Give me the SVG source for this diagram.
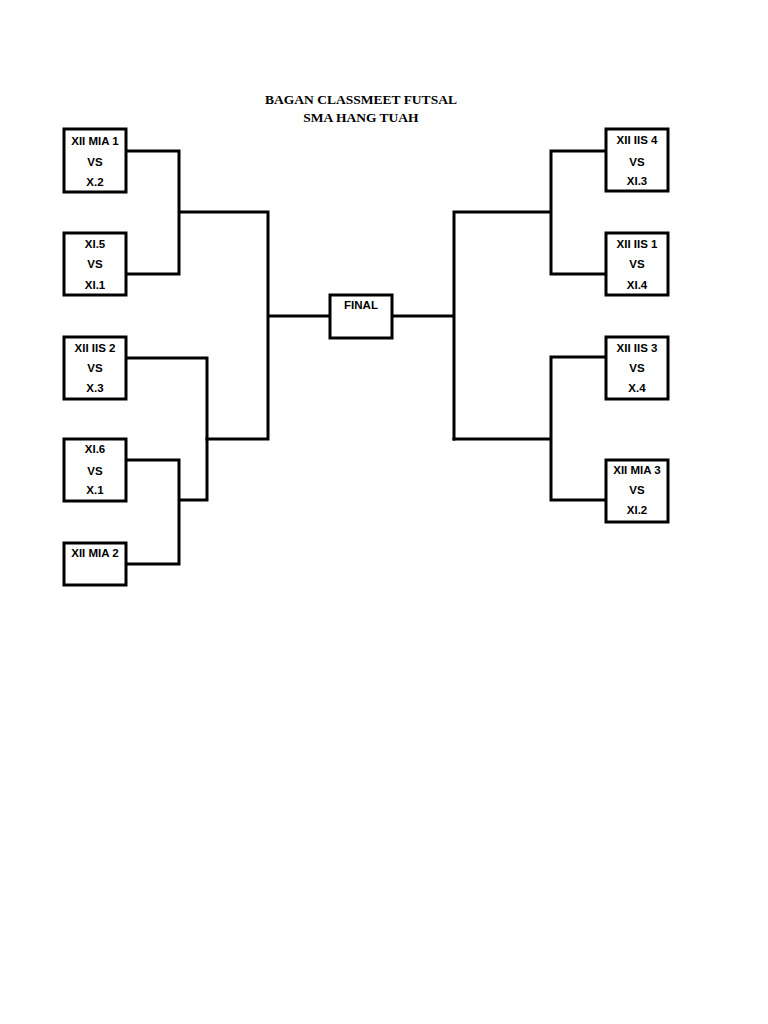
<svg xmlns="http://www.w3.org/2000/svg" width="768" height="1024" viewBox="0 0 768 1024">
<style>
.box{fill:#fff;stroke:#000;stroke-width:3}
.lbl{font-family:"Liberation Sans",Arial,sans-serif;font-weight:bold;font-size:11.5px;fill:#000;text-anchor:middle}
.title{font-family:"Liberation Serif","Times New Roman",serif;font-weight:bold;font-size:13.5px;fill:#000;text-anchor:middle}
.ln{fill:none;stroke:#000;stroke-width:3;stroke-linecap:square}
</style>
<rect width="768" height="1024" fill="#fff"/>
<g id="title">
<text class="title" x="361" y="104">BAGAN CLASSMEET FUTSAL</text>
<text class="title" x="361" y="122">SMA HANG TUAH</text>
</g>
<g id="connectors">
<path class="ln" d="M126 151H179V274H126M179 212H268V439H207M268 316H329"/>
<path class="ln" d="M126 358H207V500H179M126 460H179V564H126"/>
<path class="ln" d="M392 316H454M454 212V439M454 212H551M551 151V274M551 151H605M551 274H605"/>
<path class="ln" d="M454 439H551M551 357V500M551 357H605M551 500H605"/>
</g>
<g id="n1"><rect class="box" x="64" y="129" width="62" height="63"/>
<text class="lbl" x="95" y="145">XII MIA 1</text><text class="lbl" x="95" y="166">VS</text><text class="lbl" x="95" y="186">X.2</text></g>
<g id="n2"><rect class="box" x="64" y="233" width="62" height="62"/>
<text class="lbl" x="95" y="248">XI.5</text><text class="lbl" x="95" y="268">VS</text><text class="lbl" x="95" y="289">XI.1</text></g>
<g id="n3"><rect class="box" x="64" y="337" width="62" height="62"/>
<text class="lbl" x="95" y="352">XII IIS 2</text><text class="lbl" x="95" y="372">VS</text><text class="lbl" x="95" y="392">X.3</text></g>
<g id="n4"><rect class="box" x="64" y="439" width="62" height="62"/>
<text class="lbl" x="95" y="453">XI.6</text><text class="lbl" x="95" y="475">VS</text><text class="lbl" x="95" y="494">X.1</text></g>
<g id="n5"><rect class="box" x="64" y="543" width="62" height="42"/>
<text class="lbl" x="95" y="557">XII MIA 2</text></g>
<g id="final"><rect class="box" x="330" y="295" width="62" height="43"/>
<text class="lbl" x="361" y="309">FINAL</text></g>
<g id="r1"><rect class="box" x="606" y="129" width="62" height="62"/>
<text class="lbl" x="637" y="144">XII IIS 4</text><text class="lbl" x="637" y="166">VS</text><text class="lbl" x="637" y="185">XI.3</text></g>
<g id="r2"><rect class="box" x="606" y="233" width="62" height="62"/>
<text class="lbl" x="637" y="248">XII IIS 1</text><text class="lbl" x="637" y="268">VS</text><text class="lbl" x="637" y="289">XI.4</text></g>
<g id="r3"><rect class="box" x="606" y="337" width="62" height="62"/>
<text class="lbl" x="637" y="352">XII IIS 3</text><text class="lbl" x="637" y="372">VS</text><text class="lbl" x="637" y="392">X.4</text></g>
<g id="r4"><rect class="box" x="606" y="460" width="62" height="62"/>
<text class="lbl" x="637" y="474">XII MIA 3</text><text class="lbl" x="637" y="494">VS</text><text class="lbl" x="637" y="514">XI.2</text></g>
</svg>
